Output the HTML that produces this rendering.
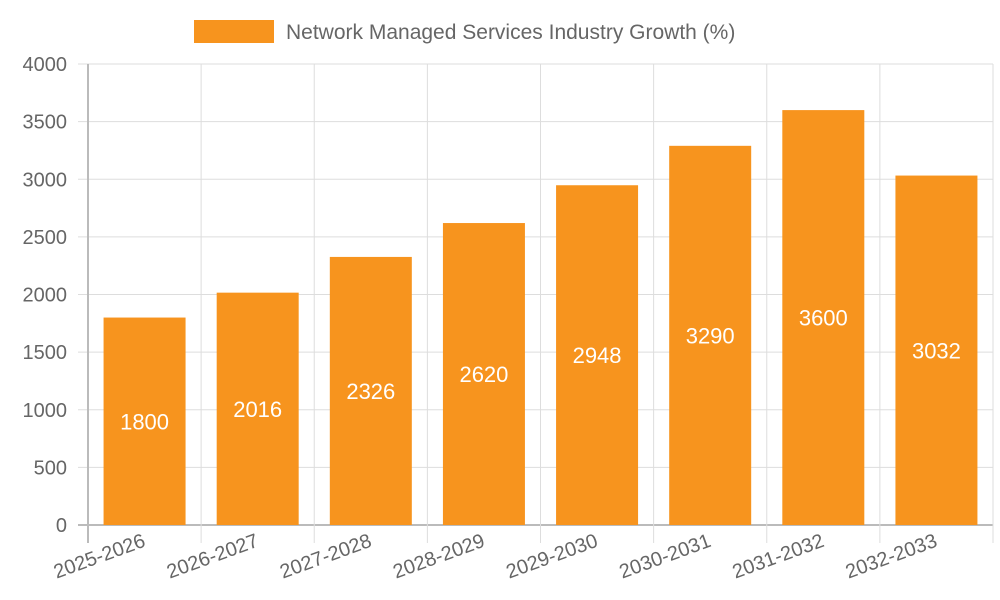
<!DOCTYPE html>
<html><head><meta charset="utf-8"><style>
html,body{margin:0;padding:0;background:#fff;width:1000px;height:600px;overflow:hidden}
svg{display:block;font-family:"Liberation Sans",sans-serif}
</style></head><body>
<svg id="chart" width="1000" height="600">
<g>
<rect x="194" y="20" width="80" height="23" fill="#f7941e"></rect>
<text x="286" y="39" font-size="21" fill="#666">Network Managed Services Industry Growth (%)</text>
</g>
</svg>
<script>
const categories=["2025-2026","2026-2027","2027-2028","2028-2029","2029-2030","2030-2031","2031-2032","2032-2033"];
const values=[1800,2016,2326,2620,2948,3290,3600,3032];
const yTicks=[0,500,1000,1500,2000,2500,3000,3500,4000];
const svg=document.getElementById('chart');
const NS='http://www.w3.org/2000/svg';
const L=88,R=993,T=64,B=525,yMax=4000;
const bw=(R-L)/categories.length;
const y=v=>B-(v/yMax)*(B-T);
const x=i=>L+i*bw;
function mk(tag,attrs,parent){const e=document.createElementNS(NS,tag);for(const k in attrs)e.setAttribute(k,attrs[k]);(parent||svg).appendChild(e);return e;}
const grid=mk('g',{});


yTicks.forEach(t=>{
  const ln=mk('line',{x1:L-10,x2:R,y1:y(t),y2:y(t),stroke:t===0?'#bbb':'#ddd','stroke-width':t===0?2:1},grid);
  
  
  const tx=mk('text',{x:L-21,y:y(t)+7,'text-anchor':'end','font-size':20,fill:'#666'});
  tx.textContent=t;
  
  
});
for(let i=0;i<=categories.length;i++){
  const ln=mk('line',{x1:x(i),x2:x(i),y1:T,y2:B+18,stroke:i===0?'#bbb':'#ddd','stroke-width':i===0?2:1},grid);
  
  
}
categories.forEach((c,i)=>{
  const cx=x(i)+bw/2, w=82;
  const r=mk('rect',{x:cx-w/2,y:y(values[i]),width:w,height:B-y(values[i]),fill:'#f7941e'});
  
  
  const vt=mk('text',{x:cx,y:(y(values[i])+B)/2+8,'text-anchor':'middle','font-size':22,fill:'#fff'});
  vt.textContent=values[i];
  
  
  const lt=mk('text',{x:cx+2,y:546,'text-anchor':'end','font-size':20,fill:'#666',transform:`rotate(-20 ${cx+2} 546)`});
  lt.textContent=c;
  
  
});
</script>
</body></html>
